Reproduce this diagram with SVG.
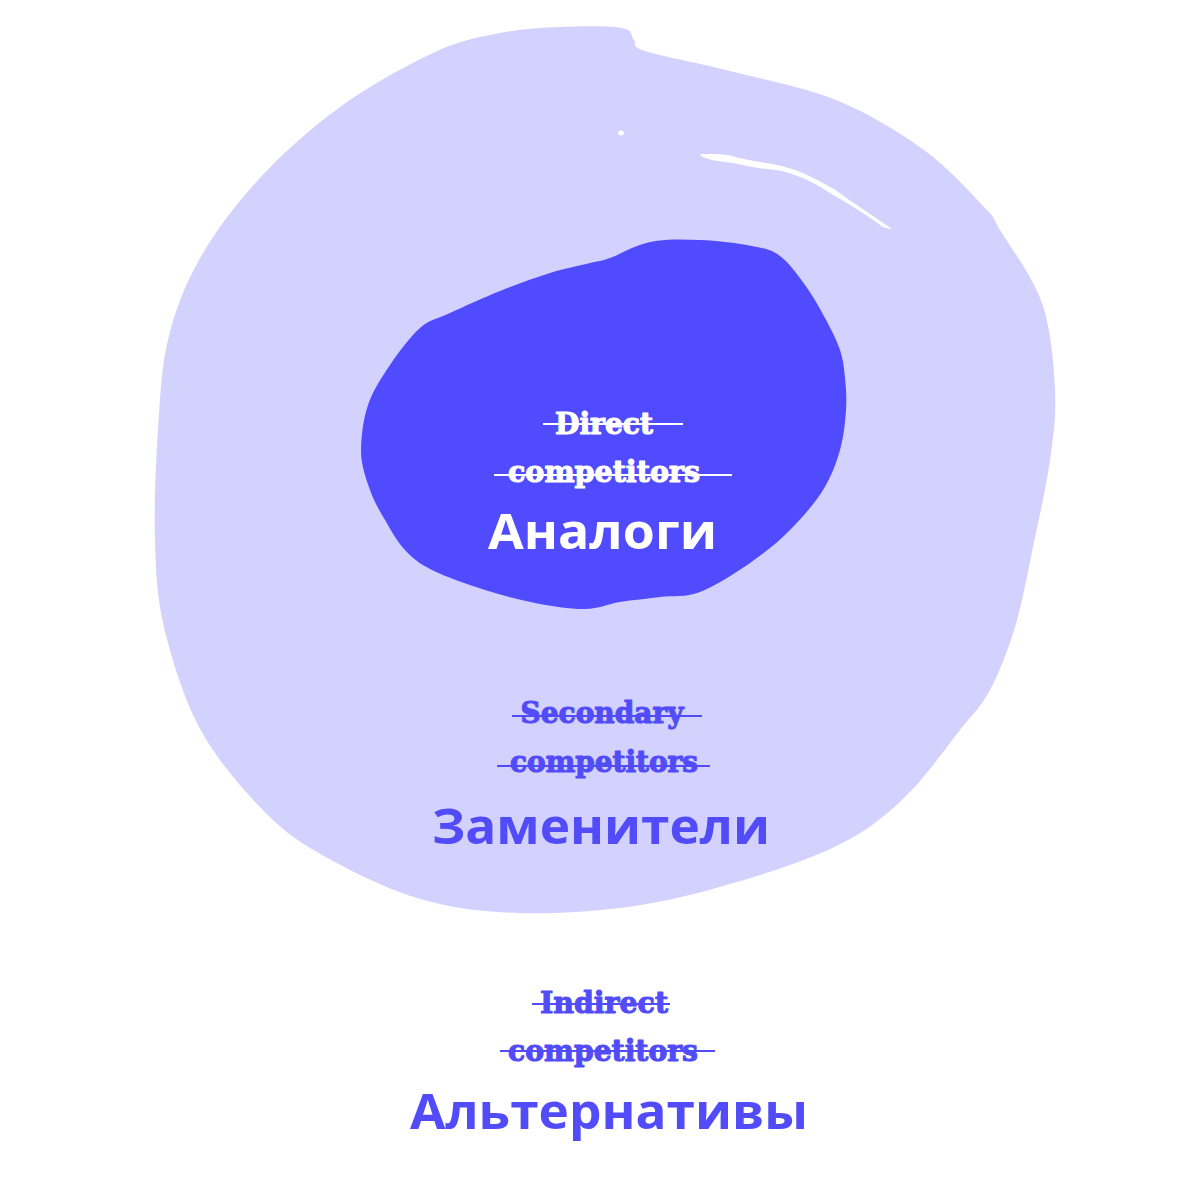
<svg xmlns="http://www.w3.org/2000/svg" width="1200" height="1177" viewBox="0 0 1200 1177">
<style>
.en{font-family:"DejaVu Serif","Liberation Serif",serif;font-weight:bold;font-size:29px;text-anchor:middle;stroke-width:1.1;stroke-linejoin:round}
.ru{font-family:"Open Sans","Noto Sans","Liberation Sans",sans-serif;font-weight:700;font-size:49px;text-anchor:middle}
.w{fill:#ffffff}
.b{fill:#524CF8}
.en.w{stroke:#ffffff}
.en.b{stroke:#524CF8}
.sw{stroke:#ffffff;stroke-width:2}
.sb{stroke:#524CF8;stroke-width:2}
</style>
<rect width="1200" height="1177" fill="#ffffff"/>
<g id="outer">
<path fill="#D3D2FE" d="M 560,27 C 580.3,26.2 609.7,25.8 622,28 C 634.3,30.2 630.2,36.2 634,40 C 637.8,43.8 629,45.8 645,51 C 661,56.2 698.2,62.8 730,71 C 761.8,79.2 803.7,86.8 836,100 C 868.3,113.2 899.2,132 924,150 C 948.8,168 972.3,194.7 985,208 C 997.7,221.3 990.5,214.2 1000,230 C 1009.5,245.8 1032.8,276.3 1042,303 C 1051.2,329.7 1053.7,363.8 1055,390 C 1056.3,416.2 1053.7,433.8 1050,460 C 1046.3,486.2 1038.8,519.2 1033,547 C 1027.2,574.8 1022.2,603.2 1015,627 C 1007.8,650.8 999.2,672.8 990,690 C 980.8,707.2 973.8,712.5 960,730 C 946.2,747.5 925.7,776.7 907,795 C 888.3,813.3 872.5,826.7 848,840 C 823.5,853.3 794.5,864.2 760,875 C 725.5,885.8 681.3,898.7 641,905 C 600.7,911.3 555.3,914.2 518,913 C 480.7,911.8 450.5,908.2 417,898 C 383.5,887.8 343.5,867.5 317,852 C 290.5,836.5 277.7,825.8 258,805 C 238.3,784.2 214.7,756.7 199,727 C 183.3,697.3 171.3,658.2 164,627 C 156.7,595.8 156,572.8 155,540 C 154,507.2 155.8,463.3 158,430 C 160.2,396.7 161.2,368.3 168,340 C 174.8,311.7 184,286.7 199,260 C 214,233.3 234.5,205.5 258,180 C 281.5,154.5 310.5,128.3 340,107 C 369.5,85.7 408.3,64.3 435,52 C 461.7,39.7 479.2,37.2 500,33 C 520.8,28.8 539.7,27.8 560,27 Z"/>
<ellipse cx="621" cy="133" rx="3" ry="2.5" fill="#ffffff"/>
<path fill="#ffffff" d="M 700,154 C 712,154 722,154 728,155 C 733,156 740,159 767,163 C 785,166 795,170 805,174 C 818,180 825,184 834,189 C 852,202 870,214 892,229 C 888,229 884,227 883,227 C 865,214 848,203 830,193 C 818,185 810,181 800,177 C 787,172 780,170 767,169 C 748,167 740,164 733,163 C 725,162 717,161 712,160 C 705,158 701,157 700,154 Z"/>
<text class="en b" x="602" y="723" textLength="163" lengthAdjust="spacingAndGlyphs">Secondary</text>
<line class="sb" x1="512" y1="716" x2="702" y2="716"/>
<text class="en b" x="604" y="772" textLength="188" lengthAdjust="spacingAndGlyphs">competitors</text>
<line class="sb" x1="497" y1="766" x2="710" y2="766"/>
<text class="ru b" x="601" y="844" textLength="338" lengthAdjust="spacingAndGlyphs">Заменители</text>
</g>
<g id="inner">
<path fill="#514BFF" d="M 650,242 C 665,239 683,239.3 700,240 C 717,240.7 738.7,243.3 752,246 C 765.3,248.7 771.2,249.5 780,256 C 788.8,262.5 797.5,274.7 805,285 C 812.5,295.3 819.2,307.2 825,318 C 830.8,328.8 836.7,340 840,350 C 843.3,360 844,368 845,378 C 846,388 846.8,398 846,410 C 845.2,422 843.8,436.7 840,450 C 836.2,463.3 831.3,476.7 823,490 C 814.7,503.3 802.2,517.8 790,530 C 777.8,542.2 765,552.7 750,563 C 735,573.3 715,586.3 700,592 C 685,597.7 673.3,595.3 660,597 C 646.7,598.7 632.5,600 620,602 C 607.5,604 599.2,608.8 585,609 C 570.8,609.2 551.7,606.2 535,603 C 518.3,599.8 502.2,595.5 485,590 C 467.8,584.5 445.3,576.7 432,570 C 418.7,563.3 412.8,558.3 405,550 C 397.2,541.7 390.8,530 385,520 C 379.2,510 374,501.7 370,490 C 366,478.3 360.7,464.2 361,450 C 361.3,435.8 363.2,419.2 368,405 C 372.8,390.8 381.3,377.8 390,365 C 398.7,352.2 410,336.7 420,328 C 430,319.3 436.7,319.2 450,313 C 463.3,306.8 483.3,297.7 500,291 C 516.7,284.3 535,277.7 550,273 C 565,268.3 580,265.5 590,263 C 600,260.5 600,261.5 610,258 C 620,254.5 635,245 650,242 Z"/>
<text class="en w" x="604" y="434" textLength="98" lengthAdjust="spacingAndGlyphs">Direct</text>
<line class="sw" x1="543" y1="424" x2="683" y2="424"/>
<text class="en w" x="604" y="482" textLength="192" lengthAdjust="spacingAndGlyphs">competitors</text>
<line class="sw" x1="494" y1="475" x2="732" y2="475"/>
<text class="ru w" x="602.5" y="549" textLength="229" lengthAdjust="spacingAndGlyphs">Аналоги</text>
</g>
<g id="alternatives">
<text class="en b" x="604" y="1013" textLength="128" lengthAdjust="spacingAndGlyphs">Indirect</text>
<line class="sb" x1="532" y1="1004" x2="670" y2="1004"/>
<text class="en b" x="603" y="1061" textLength="190" lengthAdjust="spacingAndGlyphs">competitors</text>
<line class="sb" x1="500" y1="1051" x2="715" y2="1051"/>
<text class="ru b" x="609" y="1129" textLength="398" lengthAdjust="spacingAndGlyphs">Альтернативы</text>
</g>
</svg>
